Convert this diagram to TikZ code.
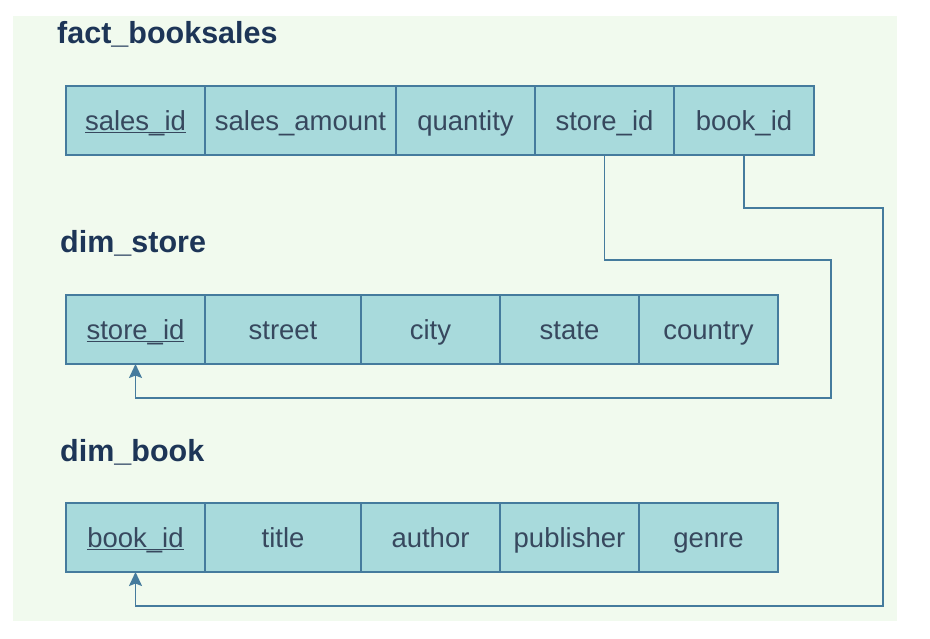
\documentclass[tikz,border=0pt]{standalone}
\usepackage{fontspec}
\setmainfont{Liberation Sans}
\usepackage{xcolor}
\usetikzlibrary{positioning,arrows.meta}

\definecolor{bgcol}{HTML}{F1FAEE}
\definecolor{cellfill}{HTML}{A8DADC}
\definecolor{linecol}{HTML}{457B9D}
\definecolor{titlecol}{HTML}{1D3557}
\definecolor{textcol}{HTML}{37485E}

\newcommand{\pkey}[1]{\underline{\smash{#1}}}

\begin{document}
\begin{tikzpicture}[
  x=1pt, y=-1pt,
  cell/.style={draw=linecol, fill=cellfill, line width=1.4pt, outer sep=0pt,
    minimum height=69pt, minimum width=139pt, inner sep=0pt,
    text=textcol, font=\fontsize{27.5}{33}\selectfont,
    text height=22pt, text depth=2pt},
  title/.style={anchor=base west, inner sep=0pt, text=titlecol,
    font=\fontsize{30.5}{36}\selectfont\bfseries},
  link/.style={draw=linecol, line width=1.8pt,
    -{Stealth[length=14pt,width=13pt,inset=2.5pt]}}
]
  \useasboundingbox (0,0) rectangle (930,639);
  \fill[bgcol] (13,16) rectangle (897,621);

  % fact table
  \node[title] (tfact) at (57,44) {fact\_booksales};
  \node[cell] (fsid) at (135.5,120.5) {\pkey{sales\_id}};
  \node[cell, minimum width=191pt, right=0pt of fsid] (fsamount) {sales\_amount};
  \node[cell, right=0pt of fsamount] (fsqty) {quantity};
  \node[cell, right=0pt of fsqty] (fsstore) {store\_id};
  \node[cell, minimum width=140pt, right=0pt of fsstore] (fsbook) {book\_id};

  % store dimension
  \node[title] (tstore) at (60,253) {dim\_store};
  \node[cell] (dsid) at (135.5,329.5) {\pkey{store\_id}};
  \node[cell, minimum width=156pt, right=0pt of dsid] (dsstreet) {street};
  \node[cell, right=0pt of dsstreet] (dscity) {city};
  \node[cell, right=0pt of dscity] (dsstate) {state};
  \node[cell, right=0pt of dsstate] (dscountry) {country};

  % book dimension
  \node[title] (tbook) at (60,461) {dim\_book};
  \node[cell] (dbid) at (135.5,537.5) {\pkey{book\_id}};
  \node[cell, minimum width=156pt, right=0pt of dbid] (dbtitle) {title};
  \node[cell, right=0pt of dbtitle] (dbauthor) {author};
  \node[cell, right=0pt of dbauthor] (dbpub) {publisher};
  \node[cell, right=0pt of dbpub] (dbgenre) {genre};

  % foreign keys
  \coordinate (sk1) at (831,260);
  \coordinate (sk2) at (135.5,398);
  \coordinate (bk1) at (883,208);
  \coordinate (bk2) at (135.5,606);
  \draw[link] (fsstore.south) |- (sk1) |- (sk2) -- (dsid.south);
  \draw[link] (fsbook.south) |- (bk1) |- (bk2) -- (dbid.south);
\end{tikzpicture}
\end{document}
